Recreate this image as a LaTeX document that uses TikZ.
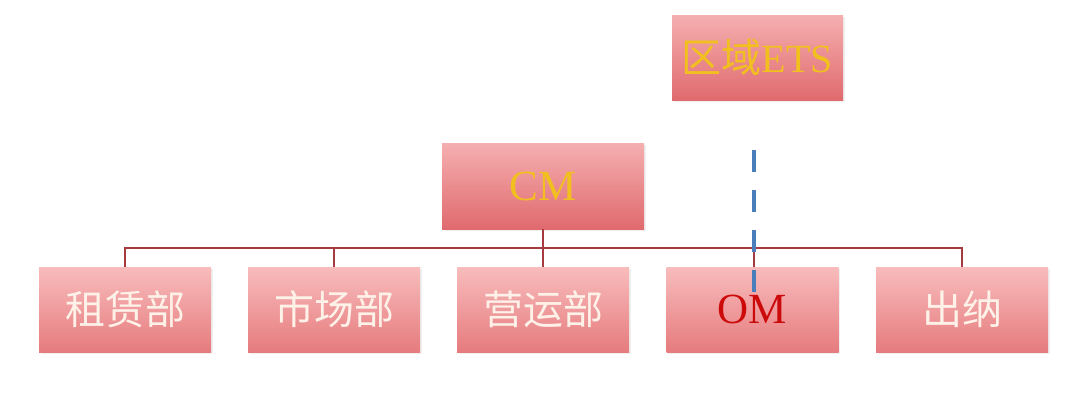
\documentclass[tikz,border=0pt]{standalone}
\usepackage{fontspec}
\setmainfont{Liberation Serif}
\newfontfamily\cjk{Noto Sans CJK SC}
\usetikzlibrary{shadows}
\definecolor{boxtop}{HTML}{F5AFB0}
\definecolor{boxbot}{HTML}{E06A6E}
\definecolor{boxtopb}{HTML}{F8BCBC}
\definecolor{boxbotb}{HTML}{E67B7E}
\definecolor{txtyellow}{HTML}{F2C01E}
\definecolor{txtwhite}{HTML}{FDF1E8}
\definecolor{txtred}{HTML}{CC0A0A}
\definecolor{linered}{HTML}{A63A3E}
\definecolor{dashblue}{HTML}{4A7EBB}
\tikzset{
  pinkbox/.style={rectangle, inner sep=0pt, top color=boxtop, bottom color=boxbot,
    draw=none, drop shadow={opacity=0.12, shadow xshift=1.5pt, shadow yshift=-2pt},
    font=\fontsize{40}{44}\selectfont},
  deptbox/.style={pinkbox, top color=boxtopb, bottom color=boxbotb,
    minimum width=172pt, minimum height=85pt},
  biglatin/.style={font=\fontsize{43}{46}\selectfont},
  conn/.style={draw=linered, line width=2.4pt},
  dashline/.style={draw=dashblue, line width=4.5pt, dash pattern=on 22pt off 18pt}
}
\begin{document}
\begin{tikzpicture}[x=1pt, y=-1pt]
  \useasboundingbox (0,0) rectangle (1080,405);
  \fill[white] (0,0) rectangle (1080,405);
  % top boxes
  \node[pinkbox, minimum width=171pt, minimum height=85pt, text=txtyellow] (ets) at (757.5,57.5) {{\cjk 区域}ETS};
  \node[pinkbox, biglatin, minimum width=202pt, minimum height=86pt, text=txtyellow] (cm) at (543,186) {CM};
  % departments
  \node[deptbox, text=txtwhite] (d1) at (125,309.5) {\cjk 租赁部};
  \node[deptbox, text=txtwhite] (d2) at (334,309.5) {\cjk 市场部};
  \node[deptbox, text=txtwhite] (d3) at (543,309.5) {\cjk 营运部};
  \node[deptbox, biglatin, text=txtred] (d4) at (752.5,309.5) {OM};
  \node[deptbox, text=txtwhite] (d5) at (962,309.5) {\cjk 出纳};
  % connectors
  \coordinate (bus) at (543,248);
  \draw[conn] (cm.south) -- (bus);
  \draw[conn] (d1.north) -- (d1.north |- bus) -- (d5.north |- bus) -- (d5.north);
  \draw[conn] (d2.north) -- (d2.north |- bus);
  \draw[conn] (d3.north) -- (d3.north |- bus);
  \draw[conn] ([xshift=1.5pt]d4.north) -- ([xshift=1.5pt]d4.north |- bus);
  % dashed line
  \coordinate (dtop) at (754,150);
  \coordinate (dbot) at (754,296);
  \draw[dashline] (dtop) -- (dbot);
\end{tikzpicture}
\end{document}
